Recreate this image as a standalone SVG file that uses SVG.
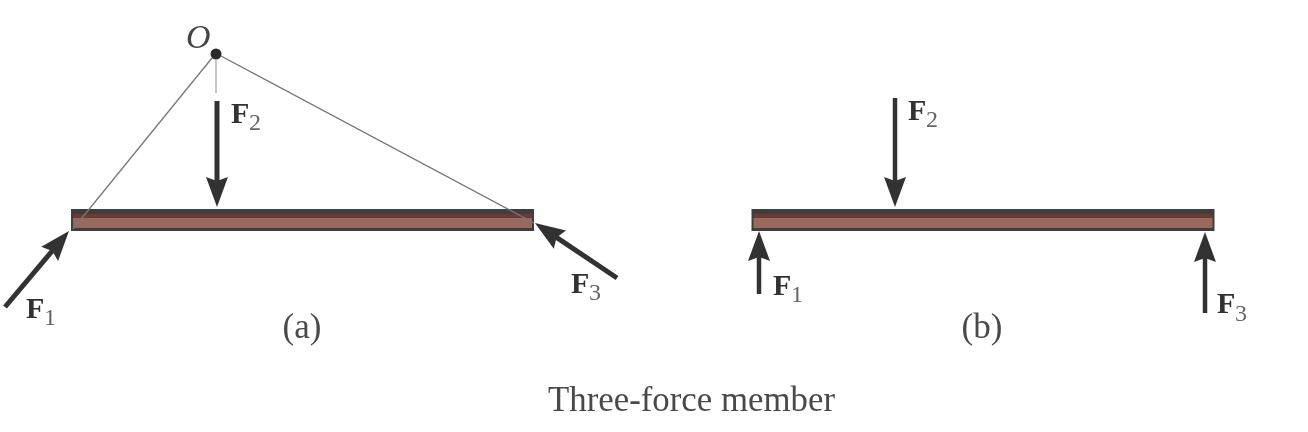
<svg xmlns="http://www.w3.org/2000/svg" width="1308" height="432" viewBox="0 0 1308 432">
<style>
text{font-family:"Liberation Serif","Times New Roman",serif;fill:#3a3a3a}
.f{font-weight:700;font-size:30px;fill:#333}
.s{font-size:24px;fill:#666}
.cap{font-size:35px;fill:#4a4a4a}
.fl{font-size:34px;fill:#444}
.force{stroke:#333;stroke-width:5;fill:none;marker-end:url(#head)}
.fs{stroke-width:4.500}
.thin{stroke:#777;stroke-width:1.300;fill:none}
.pale{stroke:#aaa}
.bd{fill:#403d3d}.bm{fill:#6a3a32}.bl{fill:#98695f}
</style>
<defs>
<marker id="head" markerUnits="userSpaceOnUse" markerWidth="32" markerHeight="24" refX="10" refY="12" orient="auto" viewBox="0 0 32 24">
<path d="M0,1L30,12L0,23L4,12Z" fill="#333"/>
</marker>
<filter id="soft" x="-2%" y="-2%" width="104%" height="104%"><feGaussianBlur stdDeviation="0.6"/></filter>
<g id="beamShape">
<rect x="0" y="0" width="463" height="22" class="bd"/>
<rect x="2" y="5" width="459" height="5" class="bm"/>
<rect x="2" y="9" width="459" height="10" class="bl"/>
</g>
</defs>
<rect width="1308" height="432" fill="#fff"/>
<g filter="url(#soft)">
<g id="beam-a"><use href="#beamShape" x="71" y="209"/></g>
<g id="beam-b"><use href="#beamShape" x="751.500" y="209"/></g>
<g id="point-O"><circle cx="216" cy="54" r="5.500" fill="#2b2b2b"/><text x="186" y="48" class="fl" font-style="italic">O</text></g>
<g id="connectors">
<path class="thin" d="M212,58L73,229"/>
<path class="thin" d="M221,56L534,223"/>
<path class="thin pale" d="M216,60V93"/>
<line class="force" x1="217" y1="101" x2="217" y2="187"/>
<line class="force" x1="5" y1="307" x2="56.100" y2="246.300"/>
<line class="force" x1="617" y1="278" x2="551.600" y2="234.100"/>
<line class="force fs" x1="895" y1="98" x2="895" y2="187"/>
<line class="force fs" x1="759" y1="294" x2="759" y2="251"/>
<line class="force fs" x1="1205" y1="313" x2="1205" y2="252"/>
</g>
<g id="label-a-F2"><text x="231" y="123" class="f">F</text><text x="249" y="130" class="s">2</text></g>
<g id="label-a-F1"><text x="26" y="318" class="f">F</text><text x="44" y="325" class="s">1</text></g>
<g id="label-a-F3"><text x="571" y="293" class="f">F</text><text x="589" y="300" class="s">3</text></g>
<g id="label-b-F2"><text x="908" y="120" class="f">F</text><text x="926" y="127" class="s">2</text></g>
<g id="label-b-F1"><text x="773" y="295" class="f">F</text><text x="791" y="302" class="s">1</text></g>
<g id="label-b-F3"><text x="1217" y="313" class="f">F</text><text x="1235" y="321" class="s">3</text></g>
<text x="302" y="338" class="cap" text-anchor="middle">(a)</text>
<text x="982" y="338" class="cap" text-anchor="middle">(b)</text>
<text x="691.500" y="411" class="cap" text-anchor="middle" textLength="287" lengthAdjust="spacingAndGlyphs">Three-force member</text>
</g>
</svg>
